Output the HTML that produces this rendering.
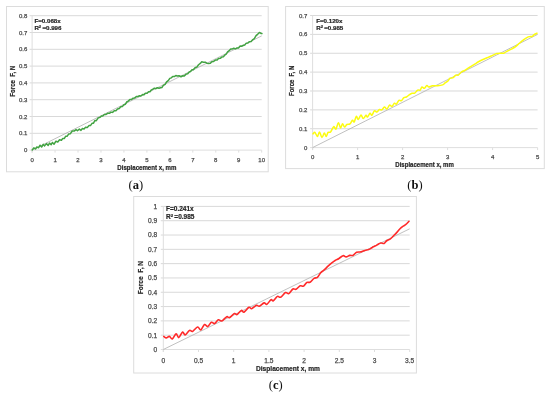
<!DOCTYPE html>
<html><head><meta charset="utf-8"><style>
html,body{margin:0;padding:0;background:#fff;}
body{width:550px;height:398px;overflow:hidden;}
svg{display:block;}
text{font-family:"Liberation Sans", Arial, sans-serif;}
</style></head><body>
<svg width="550" height="398" viewBox="0 0 550 398">
<rect width="550" height="398" fill="#fff"/>
<rect x="6.5" y="6.5" width="261.7" height="165.3" fill="#fff" stroke="#dcdcdc" stroke-width="1"/>
<text x="27.3" y="152.20" text-anchor="end" font-size="6.0" fill="#4a4a4a" stroke="#4a4a4a" stroke-width="0.25">0</text>
<line x1="29.6" y1="133.30" x2="261.7" y2="133.30" stroke="#d9d9d9" stroke-width="1"/>
<text x="27.3" y="135.40" text-anchor="end" font-size="6.0" fill="#4a4a4a" stroke="#4a4a4a" stroke-width="0.25">0.1</text>
<line x1="29.6" y1="116.50" x2="261.7" y2="116.50" stroke="#d9d9d9" stroke-width="1"/>
<text x="27.3" y="118.60" text-anchor="end" font-size="6.0" fill="#4a4a4a" stroke="#4a4a4a" stroke-width="0.25">0.2</text>
<line x1="29.6" y1="99.70" x2="261.7" y2="99.70" stroke="#d9d9d9" stroke-width="1"/>
<text x="27.3" y="101.80" text-anchor="end" font-size="6.0" fill="#4a4a4a" stroke="#4a4a4a" stroke-width="0.25">0.3</text>
<line x1="29.6" y1="82.90" x2="261.7" y2="82.90" stroke="#d9d9d9" stroke-width="1"/>
<text x="27.3" y="85.00" text-anchor="end" font-size="6.0" fill="#4a4a4a" stroke="#4a4a4a" stroke-width="0.25">0.4</text>
<line x1="29.6" y1="66.10" x2="261.7" y2="66.10" stroke="#d9d9d9" stroke-width="1"/>
<text x="27.3" y="68.20" text-anchor="end" font-size="6.0" fill="#4a4a4a" stroke="#4a4a4a" stroke-width="0.25">0.5</text>
<line x1="29.6" y1="49.30" x2="261.7" y2="49.30" stroke="#d9d9d9" stroke-width="1"/>
<text x="27.3" y="51.40" text-anchor="end" font-size="6.0" fill="#4a4a4a" stroke="#4a4a4a" stroke-width="0.25">0.6</text>
<line x1="29.6" y1="32.50" x2="261.7" y2="32.50" stroke="#d9d9d9" stroke-width="1"/>
<text x="27.3" y="34.60" text-anchor="end" font-size="6.0" fill="#4a4a4a" stroke="#4a4a4a" stroke-width="0.25">0.7</text>
<line x1="29.6" y1="15.70" x2="261.7" y2="15.70" stroke="#d9d9d9" stroke-width="1"/>
<text x="27.3" y="17.80" text-anchor="end" font-size="6.0" fill="#4a4a4a" stroke="#4a4a4a" stroke-width="0.25">0.8</text>
<line x1="32.1" y1="15.70" x2="32.1" y2="152.60" stroke="#dedede" stroke-width="1"/>
<line x1="29.6" y1="150.10" x2="261.7" y2="150.10" stroke="#dedede" stroke-width="1"/>
<line x1="32.10" y1="150.10" x2="32.10" y2="152.60" stroke="#dedede" stroke-width="1"/>
<text x="32.10" y="162.40" text-anchor="middle" font-size="6.0" fill="#4a4a4a" stroke="#4a4a4a" stroke-width="0.25">0</text>
<line x1="55.06" y1="150.10" x2="55.06" y2="152.60" stroke="#dedede" stroke-width="1"/>
<text x="55.06" y="162.40" text-anchor="middle" font-size="6.0" fill="#4a4a4a" stroke="#4a4a4a" stroke-width="0.25">1</text>
<line x1="78.02" y1="150.10" x2="78.02" y2="152.60" stroke="#dedede" stroke-width="1"/>
<text x="78.02" y="162.40" text-anchor="middle" font-size="6.0" fill="#4a4a4a" stroke="#4a4a4a" stroke-width="0.25">2</text>
<line x1="100.98" y1="150.10" x2="100.98" y2="152.60" stroke="#dedede" stroke-width="1"/>
<text x="100.98" y="162.40" text-anchor="middle" font-size="6.0" fill="#4a4a4a" stroke="#4a4a4a" stroke-width="0.25">3</text>
<line x1="123.94" y1="150.10" x2="123.94" y2="152.60" stroke="#dedede" stroke-width="1"/>
<text x="123.94" y="162.40" text-anchor="middle" font-size="6.0" fill="#4a4a4a" stroke="#4a4a4a" stroke-width="0.25">4</text>
<line x1="146.90" y1="150.10" x2="146.90" y2="152.60" stroke="#dedede" stroke-width="1"/>
<text x="146.90" y="162.40" text-anchor="middle" font-size="6.0" fill="#4a4a4a" stroke="#4a4a4a" stroke-width="0.25">5</text>
<line x1="169.86" y1="150.10" x2="169.86" y2="152.60" stroke="#dedede" stroke-width="1"/>
<text x="169.86" y="162.40" text-anchor="middle" font-size="6.0" fill="#4a4a4a" stroke="#4a4a4a" stroke-width="0.25">6</text>
<line x1="192.82" y1="150.10" x2="192.82" y2="152.60" stroke="#dedede" stroke-width="1"/>
<text x="192.82" y="162.40" text-anchor="middle" font-size="6.0" fill="#4a4a4a" stroke="#4a4a4a" stroke-width="0.25">7</text>
<line x1="215.78" y1="150.10" x2="215.78" y2="152.60" stroke="#dedede" stroke-width="1"/>
<text x="215.78" y="162.40" text-anchor="middle" font-size="6.0" fill="#4a4a4a" stroke="#4a4a4a" stroke-width="0.25">8</text>
<line x1="238.74" y1="150.10" x2="238.74" y2="152.60" stroke="#dedede" stroke-width="1"/>
<text x="238.74" y="162.40" text-anchor="middle" font-size="6.0" fill="#4a4a4a" stroke="#4a4a4a" stroke-width="0.25">9</text>
<line x1="261.70" y1="150.10" x2="261.70" y2="152.60" stroke="#dedede" stroke-width="1"/>
<text x="261.70" y="162.40" text-anchor="middle" font-size="6.0" fill="#4a4a4a" stroke="#4a4a4a" stroke-width="0.25">10</text>
<line x1="32.10" y1="150.10" x2="261.70" y2="35.86" stroke="#b0b0b0" stroke-width="0.8"/>
<path d="M32.20,150.01 L33.83,147.85 L35.49,148.99 L36.82,147.01 L38.63,147.68 L40.06,145.20 L41.64,147.04 L43.23,144.36 L44.60,145.90 L46.44,143.63 L48.19,145.46 L49.52,143.16 L51.17,144.65 L52.47,142.42 L54.06,144.15 L55.90,141.23 L57.77,142.02 L59.56,139.75 L61.44,140.18 L62.78,138.42 L64.20,138.59 L65.76,136.16 L67.23,136.20 L68.76,133.92 L70.41,133.66 L72.27,130.98 L74.15,131.07 L76.06,129.54 L77.45,130.72 L79.34,129.13 L80.99,130.37 L82.40,128.57 L84.05,129.07 L85.37,127.36 L87.28,127.45 L89.08,125.59 L90.45,125.58 L92.22,123.15 L93.53,123.19 L94.84,120.53 L96.33,120.65 L98.24,117.88 L100.16,117.32 L101.49,115.98 L102.79,115.97 L104.33,114.55 L105.71,114.59 L107.55,113.32 L109.44,113.37 L110.96,112.12 L112.57,112.38 L114.24,110.82 L115.91,110.67 L117.52,108.92 L119.26,108.46 L120.73,106.80 L122.34,106.61 L123.63,104.96 L125.28,104.28 L126.96,101.78 L128.28,101.10 L129.85,99.55 L131.36,99.62 L133.11,98.13 L134.43,98.08 L136.33,96.58 L137.90,96.62 L139.38,95.68 L140.86,95.99 L142.53,94.58 L144.05,94.63 L145.34,93.31 L147.09,93.25 L148.52,91.83 L149.95,91.83 L151.51,89.83 L152.85,89.25 L154.35,88.14 L155.91,88.70 L157.30,87.71 L158.99,88.18 L160.56,87.67 L161.92,87.46 L163.32,85.42 L165.14,84.26 L166.59,81.92 L168.29,80.60 L169.79,78.42 L171.25,77.86 L172.71,76.49 L174.25,76.59 L175.80,75.58 L177.18,76.07 L179.06,75.72 L180.97,76.75 L182.86,75.74 L184.28,75.93 L186.10,74.11 L187.71,73.72 L189.21,71.97 L190.53,71.50 L191.99,69.71 L193.30,69.79 L195.03,67.67 L196.88,67.08 L198.53,64.76 L200.29,63.47 L201.76,61.85 L203.38,62.14 L205.26,62.20 L206.75,63.20 L208.59,63.44 L210.37,63.28 L211.77,61.78 L213.58,61.43 L215.36,60.05 L217.16,60.06 L218.44,58.60 L220.28,58.31 L221.73,57.10 L223.35,56.70 L224.93,54.89 L226.21,54.05 L227.57,51.89 L228.90,50.96 L230.72,48.92 L232.32,48.90 L233.80,48.29 L235.50,48.91 L237.01,48.02 L238.50,48.02 L240.14,46.06 L241.66,46.21 L243.05,45.50 L244.72,45.09 L246.24,43.14 L247.92,43.07 L249.44,41.64 L251.17,41.48 L252.89,39.52 L254.33,38.57 L256.06,35.66 L257.61,34.34 L259.45,32.41 L260.97,33.44 L261.90,33.60" fill="none" stroke="#42a342" stroke-width="1.50" stroke-linejoin="round" stroke-linecap="round"/>
<text x="34.4" y="22.70" font-size="6.2" font-weight="bold" fill="#262626" stroke="#262626" stroke-width="0.2">F=0.068x</text>
<text x="34.4" y="29.60" font-size="6.2" font-weight="bold" fill="#262626" stroke="#262626" stroke-width="0.2">R<tspan font-size="4.0" dy="-2">2</tspan><tspan dy="2" dx="1.3">=0.996</tspan></text>
<text transform="translate(15.00,81.25) rotate(-90)" x="-15.45" y="0" font-size="6.60" font-weight="bold" fill="#262626" stroke="#262626" stroke-width="0.2" textLength="30.90" lengthAdjust="spacingAndGlyphs" xml:space="preserve">Force  F, N</text>
<text x="117.30" y="169.70" font-size="6.60" font-weight="bold" fill="#262626" stroke="#262626" stroke-width="0.2" textLength="59.10" lengthAdjust="spacingAndGlyphs">Displacement x, mm</text>
<rect x="285.6" y="6.5" width="258.7" height="162.1" fill="#fff" stroke="#dcdcdc" stroke-width="1"/>
<text x="307.3" y="149.70" text-anchor="end" font-size="6.0" fill="#4a4a4a" stroke="#4a4a4a" stroke-width="0.25">0</text>
<line x1="310.1" y1="128.73" x2="537.6" y2="128.73" stroke="#d9d9d9" stroke-width="1"/>
<text x="307.3" y="130.83" text-anchor="end" font-size="6.0" fill="#4a4a4a" stroke="#4a4a4a" stroke-width="0.25">0.1</text>
<line x1="310.1" y1="109.86" x2="537.6" y2="109.86" stroke="#d9d9d9" stroke-width="1"/>
<text x="307.3" y="111.96" text-anchor="end" font-size="6.0" fill="#4a4a4a" stroke="#4a4a4a" stroke-width="0.25">0.2</text>
<line x1="310.1" y1="90.99" x2="537.6" y2="90.99" stroke="#d9d9d9" stroke-width="1"/>
<text x="307.3" y="93.09" text-anchor="end" font-size="6.0" fill="#4a4a4a" stroke="#4a4a4a" stroke-width="0.25">0.3</text>
<line x1="310.1" y1="72.12" x2="537.6" y2="72.12" stroke="#d9d9d9" stroke-width="1"/>
<text x="307.3" y="74.22" text-anchor="end" font-size="6.0" fill="#4a4a4a" stroke="#4a4a4a" stroke-width="0.25">0.4</text>
<line x1="310.1" y1="53.25" x2="537.6" y2="53.25" stroke="#d9d9d9" stroke-width="1"/>
<text x="307.3" y="55.35" text-anchor="end" font-size="6.0" fill="#4a4a4a" stroke="#4a4a4a" stroke-width="0.25">0.5</text>
<line x1="310.1" y1="34.38" x2="537.6" y2="34.38" stroke="#d9d9d9" stroke-width="1"/>
<text x="307.3" y="36.48" text-anchor="end" font-size="6.0" fill="#4a4a4a" stroke="#4a4a4a" stroke-width="0.25">0.6</text>
<line x1="310.1" y1="15.51" x2="537.6" y2="15.51" stroke="#d9d9d9" stroke-width="1"/>
<text x="307.3" y="17.61" text-anchor="end" font-size="6.0" fill="#4a4a4a" stroke="#4a4a4a" stroke-width="0.25">0.7</text>
<line x1="312.6" y1="15.51" x2="312.6" y2="150.10" stroke="#dedede" stroke-width="1"/>
<line x1="310.1" y1="147.60" x2="537.6" y2="147.60" stroke="#dedede" stroke-width="1"/>
<line x1="312.60" y1="147.60" x2="312.60" y2="150.10" stroke="#dedede" stroke-width="1"/>
<text x="312.60" y="159.40" text-anchor="middle" font-size="6.0" fill="#4a4a4a" stroke="#4a4a4a" stroke-width="0.25">0</text>
<line x1="357.60" y1="147.60" x2="357.60" y2="150.10" stroke="#dedede" stroke-width="1"/>
<text x="357.60" y="159.40" text-anchor="middle" font-size="6.0" fill="#4a4a4a" stroke="#4a4a4a" stroke-width="0.25">1</text>
<line x1="402.60" y1="147.60" x2="402.60" y2="150.10" stroke="#dedede" stroke-width="1"/>
<text x="402.60" y="159.40" text-anchor="middle" font-size="6.0" fill="#4a4a4a" stroke="#4a4a4a" stroke-width="0.25">2</text>
<line x1="447.60" y1="147.60" x2="447.60" y2="150.10" stroke="#dedede" stroke-width="1"/>
<text x="447.60" y="159.40" text-anchor="middle" font-size="6.0" fill="#4a4a4a" stroke="#4a4a4a" stroke-width="0.25">3</text>
<line x1="492.60" y1="147.60" x2="492.60" y2="150.10" stroke="#dedede" stroke-width="1"/>
<text x="492.60" y="159.40" text-anchor="middle" font-size="6.0" fill="#4a4a4a" stroke="#4a4a4a" stroke-width="0.25">4</text>
<line x1="537.60" y1="147.60" x2="537.60" y2="150.10" stroke="#dedede" stroke-width="1"/>
<text x="537.60" y="159.40" text-anchor="middle" font-size="6.0" fill="#4a4a4a" stroke="#4a4a4a" stroke-width="0.25">5</text>
<line x1="312.60" y1="147.60" x2="537.60" y2="34.38" stroke="#b0b0b0" stroke-width="0.8"/>
<path d="M313.00,133.90 C313.32,133.65 314.17,131.98 314.90,132.40 C315.63,132.82 316.63,136.47 317.40,136.40 C318.17,136.33 318.73,131.80 319.50,132.00 C320.27,132.20 321.20,137.45 322.00,137.60 C322.80,137.75 323.60,133.10 324.30,132.90 C325.00,132.70 325.57,136.48 326.20,136.40 C326.83,136.32 327.37,133.13 328.10,132.40 C328.83,131.67 329.67,132.97 330.60,132.00 C331.53,131.03 332.82,127.08 333.70,126.60 C334.58,126.12 335.12,129.73 335.90,129.10 C336.68,128.47 337.62,123.00 338.40,122.80 C339.18,122.60 339.92,127.73 340.60,127.90 C341.28,128.07 341.83,123.95 342.50,123.80 C343.17,123.65 343.87,126.88 344.60,127.00 C345.33,127.12 346.00,125.03 346.90,124.50 C347.80,123.97 349.07,124.50 350.00,123.80 C350.93,123.10 351.80,120.60 352.50,120.30 C353.20,120.00 353.57,122.67 354.20,122.00 C354.83,121.33 355.63,116.73 356.30,116.30 C356.97,115.87 357.42,119.60 358.20,119.40 C358.98,119.20 360.17,115.23 361.00,115.10 C361.83,114.97 362.37,118.57 363.20,118.60 C364.03,118.63 365.28,115.57 366.00,115.30 C366.72,115.03 366.83,117.33 367.50,117.00 C368.17,116.67 369.27,113.60 370.00,113.30 C370.73,113.00 371.17,115.62 371.90,115.20 C372.63,114.78 373.57,111.33 374.40,110.80 C375.23,110.27 376.07,112.22 376.90,112.00 C377.73,111.78 378.57,109.85 379.40,109.50 C380.23,109.15 381.07,110.32 381.90,109.90 C382.73,109.48 383.55,107.17 384.40,107.00 C385.25,106.83 386.15,109.22 387.00,108.90 C387.85,108.58 388.67,105.52 389.50,105.10 C390.33,104.68 391.17,106.72 392.00,106.40 C392.83,106.08 393.77,103.58 394.50,103.20 C395.23,102.82 395.67,104.57 396.40,104.10 C397.13,103.63 398.07,100.97 398.90,100.40 C399.73,99.83 400.57,101.17 401.40,100.70 C402.23,100.23 403.07,98.22 403.90,97.60 C404.73,96.98 405.57,97.42 406.40,97.00 C407.23,96.58 407.97,95.73 408.90,95.10 C409.83,94.47 411.05,93.52 412.00,93.20 C412.95,92.88 413.65,93.72 414.60,93.20 C415.55,92.68 416.77,90.62 417.70,90.10 C418.63,89.58 419.50,90.62 420.20,90.10 C420.90,89.58 421.20,87.30 421.90,87.00 C422.60,86.70 423.57,88.57 424.40,88.30 C425.23,88.03 426.17,85.62 426.90,85.40 C427.63,85.18 427.87,86.93 428.80,87.00 C429.73,87.07 431.03,86.00 432.50,85.80 C433.97,85.60 435.92,85.95 437.60,85.80 C439.28,85.65 441.35,85.38 442.60,84.90 C443.85,84.42 444.17,83.60 445.10,82.90 C446.03,82.20 447.37,81.48 448.20,80.70 C449.03,79.92 449.27,78.72 450.10,78.20 C450.93,77.68 452.25,78.12 453.20,77.60 C454.15,77.08 454.95,75.52 455.80,75.10 C456.65,74.68 457.37,75.62 458.30,75.10 C459.23,74.58 460.25,72.83 461.40,72.00 C462.55,71.17 463.73,70.95 465.20,70.10 C466.67,69.25 468.53,67.95 470.20,66.90 C471.87,65.85 473.90,64.62 475.20,63.80 C476.50,62.98 476.70,62.72 478.00,62.00 C479.30,61.28 481.33,60.27 483.00,59.50 C484.67,58.73 486.32,58.13 488.00,57.40 C489.68,56.67 491.63,55.73 493.10,55.10 C494.57,54.47 495.55,53.92 496.80,53.60 C498.05,53.28 499.45,53.27 500.60,53.20 C501.75,53.13 502.65,53.52 503.70,53.20 C504.75,52.88 505.53,52.03 506.90,51.30 C508.27,50.57 510.45,49.58 511.90,48.80 C513.35,48.02 514.35,47.53 515.60,46.60 C516.85,45.67 518.13,44.28 519.40,43.20 C520.67,42.12 521.73,41.15 523.20,40.10 C524.67,39.05 526.73,37.50 528.20,36.90 C529.67,36.30 531.07,36.83 532.00,36.50 C532.93,36.17 532.97,35.45 533.80,34.90 C534.63,34.35 536.47,33.48 537.00,33.20" fill="none" stroke="#fcfc10" stroke-width="1.50" stroke-linejoin="round" stroke-linecap="round"/>
<text x="316.2" y="22.90" font-size="6.2" font-weight="bold" fill="#262626" stroke="#262626" stroke-width="0.2">F=0.120x</text>
<text x="316.2" y="29.80" font-size="6.2" font-weight="bold" fill="#262626" stroke="#262626" stroke-width="0.2">R<tspan font-size="4.0" dy="-2">2</tspan><tspan dy="2" dx="1.3">=0.985</tspan></text>
<text transform="translate(294.00,80.90) rotate(-90)" x="-15.10" y="0" font-size="6.60" font-weight="bold" fill="#262626" stroke="#262626" stroke-width="0.2" textLength="30.20" lengthAdjust="spacingAndGlyphs" xml:space="preserve">Force  F, N</text>
<text x="395.30" y="167.10" font-size="6.60" font-weight="bold" fill="#262626" stroke="#262626" stroke-width="0.2" textLength="58.60" lengthAdjust="spacingAndGlyphs">Displacement x, mm</text>
<rect x="133.7" y="196.5" width="282.7" height="176.5" fill="#fff" stroke="#dcdcdc" stroke-width="1"/>
<text x="157.2" y="351.81" text-anchor="end" font-size="6.6" fill="#4a4a4a" stroke="#4a4a4a" stroke-width="0.25">0</text>
<line x1="160.8" y1="335.19" x2="409.7" y2="335.19" stroke="#d9d9d9" stroke-width="1"/>
<text x="157.2" y="337.50" text-anchor="end" font-size="6.6" fill="#4a4a4a" stroke="#4a4a4a" stroke-width="0.25">0.1</text>
<line x1="160.8" y1="320.88" x2="409.7" y2="320.88" stroke="#d9d9d9" stroke-width="1"/>
<text x="157.2" y="323.19" text-anchor="end" font-size="6.6" fill="#4a4a4a" stroke="#4a4a4a" stroke-width="0.25">0.2</text>
<line x1="160.8" y1="306.57" x2="409.7" y2="306.57" stroke="#d9d9d9" stroke-width="1"/>
<text x="157.2" y="308.88" text-anchor="end" font-size="6.6" fill="#4a4a4a" stroke="#4a4a4a" stroke-width="0.25">0.3</text>
<line x1="160.8" y1="292.26" x2="409.7" y2="292.26" stroke="#d9d9d9" stroke-width="1"/>
<text x="157.2" y="294.57" text-anchor="end" font-size="6.6" fill="#4a4a4a" stroke="#4a4a4a" stroke-width="0.25">0.4</text>
<line x1="160.8" y1="277.95" x2="409.7" y2="277.95" stroke="#d9d9d9" stroke-width="1"/>
<text x="157.2" y="280.26" text-anchor="end" font-size="6.6" fill="#4a4a4a" stroke="#4a4a4a" stroke-width="0.25">0.5</text>
<line x1="160.8" y1="263.64" x2="409.7" y2="263.64" stroke="#d9d9d9" stroke-width="1"/>
<text x="157.2" y="265.95" text-anchor="end" font-size="6.6" fill="#4a4a4a" stroke="#4a4a4a" stroke-width="0.25">0.6</text>
<line x1="160.8" y1="249.33" x2="409.7" y2="249.33" stroke="#d9d9d9" stroke-width="1"/>
<text x="157.2" y="251.64" text-anchor="end" font-size="6.6" fill="#4a4a4a" stroke="#4a4a4a" stroke-width="0.25">0.7</text>
<line x1="160.8" y1="235.02" x2="409.7" y2="235.02" stroke="#d9d9d9" stroke-width="1"/>
<text x="157.2" y="237.33" text-anchor="end" font-size="6.6" fill="#4a4a4a" stroke="#4a4a4a" stroke-width="0.25">0.8</text>
<line x1="160.8" y1="220.71" x2="409.7" y2="220.71" stroke="#d9d9d9" stroke-width="1"/>
<text x="157.2" y="223.02" text-anchor="end" font-size="6.6" fill="#4a4a4a" stroke="#4a4a4a" stroke-width="0.25">0.9</text>
<line x1="160.8" y1="206.40" x2="409.7" y2="206.40" stroke="#d9d9d9" stroke-width="1"/>
<text x="157.2" y="208.71" text-anchor="end" font-size="6.6" fill="#4a4a4a" stroke="#4a4a4a" stroke-width="0.25">1</text>
<line x1="163.3" y1="206.40" x2="163.3" y2="352.00" stroke="#dedede" stroke-width="1"/>
<line x1="160.8" y1="349.50" x2="409.7" y2="349.50" stroke="#dedede" stroke-width="1"/>
<line x1="163.30" y1="349.50" x2="163.30" y2="352.00" stroke="#dedede" stroke-width="1"/>
<text x="163.30" y="362.80" text-anchor="middle" font-size="6.6" fill="#4a4a4a" stroke="#4a4a4a" stroke-width="0.25">0</text>
<line x1="198.50" y1="349.50" x2="198.50" y2="352.00" stroke="#dedede" stroke-width="1"/>
<text x="198.50" y="362.80" text-anchor="middle" font-size="6.6" fill="#4a4a4a" stroke="#4a4a4a" stroke-width="0.25">0.5</text>
<line x1="233.70" y1="349.50" x2="233.70" y2="352.00" stroke="#dedede" stroke-width="1"/>
<text x="233.70" y="362.80" text-anchor="middle" font-size="6.6" fill="#4a4a4a" stroke="#4a4a4a" stroke-width="0.25">1</text>
<line x1="268.90" y1="349.50" x2="268.90" y2="352.00" stroke="#dedede" stroke-width="1"/>
<text x="268.90" y="362.80" text-anchor="middle" font-size="6.6" fill="#4a4a4a" stroke="#4a4a4a" stroke-width="0.25">1.5</text>
<line x1="304.10" y1="349.50" x2="304.10" y2="352.00" stroke="#dedede" stroke-width="1"/>
<text x="304.10" y="362.80" text-anchor="middle" font-size="6.6" fill="#4a4a4a" stroke="#4a4a4a" stroke-width="0.25">2</text>
<line x1="339.30" y1="349.50" x2="339.30" y2="352.00" stroke="#dedede" stroke-width="1"/>
<text x="339.30" y="362.80" text-anchor="middle" font-size="6.6" fill="#4a4a4a" stroke="#4a4a4a" stroke-width="0.25">2.5</text>
<line x1="374.50" y1="349.50" x2="374.50" y2="352.00" stroke="#dedede" stroke-width="1"/>
<text x="374.50" y="362.80" text-anchor="middle" font-size="6.6" fill="#4a4a4a" stroke="#4a4a4a" stroke-width="0.25">3</text>
<line x1="409.70" y1="349.50" x2="409.70" y2="352.00" stroke="#dedede" stroke-width="1"/>
<text x="409.70" y="362.80" text-anchor="middle" font-size="6.6" fill="#4a4a4a" stroke="#4a4a4a" stroke-width="0.25">3.5</text>
<line x1="163.30" y1="349.50" x2="409.70" y2="228.80" stroke="#b0b0b0" stroke-width="0.8"/>
<path d="M163.80,336.40 C164.22,336.65 165.37,337.90 166.30,337.90 C167.23,337.90 168.40,336.23 169.40,336.40 C170.40,336.57 171.18,339.32 172.30,338.90 C173.42,338.48 175.02,334.12 176.10,333.90 C177.18,333.68 177.72,337.92 178.80,337.60 C179.88,337.28 181.55,332.45 182.60,332.00 C183.65,331.55 183.95,335.17 185.10,334.90 C186.25,334.63 188.25,330.98 189.50,330.40 C190.75,329.82 191.25,331.97 192.60,331.40 C193.95,330.83 196.23,327.25 197.60,327.00 C198.97,326.75 199.65,330.32 200.80,329.90 C201.95,329.48 203.35,325.05 204.50,324.50 C205.65,323.95 206.55,326.97 207.70,326.60 C208.85,326.23 210.25,322.80 211.40,322.30 C212.55,321.80 213.45,324.02 214.60,323.60 C215.75,323.18 217.08,320.25 218.30,319.80 C219.52,319.35 220.48,321.42 221.90,320.90 C223.32,320.38 225.53,317.23 226.80,316.70 C228.07,316.17 228.23,318.22 229.50,317.70 C230.77,317.18 233.13,314.13 234.40,313.60 C235.67,313.07 235.95,315.03 237.10,314.50 C238.25,313.97 240.15,310.78 241.30,310.40 C242.45,310.02 242.73,312.72 244.00,312.20 C245.27,311.68 247.62,307.88 248.90,307.30 C250.18,306.72 250.43,309.03 251.70,308.70 C252.97,308.37 255.23,305.72 256.50,305.30 C257.77,304.88 258.03,306.60 259.30,306.20 C260.57,305.80 262.83,303.22 264.10,302.90 C265.37,302.58 265.75,304.83 266.90,304.30 C268.05,303.77 269.93,300.28 271.00,299.70 C272.07,299.12 272.23,301.35 273.30,300.80 C274.37,300.25 276.18,297.00 277.40,296.40 C278.62,295.80 279.25,297.83 280.60,297.20 C281.95,296.57 284.13,293.20 285.50,292.60 C286.87,292.00 287.57,294.20 288.80,293.60 C290.03,293.00 291.68,289.72 292.90,289.00 C294.12,288.28 294.88,289.83 296.10,289.30 C297.32,288.77 298.97,286.33 300.20,285.80 C301.43,285.27 302.40,286.65 303.50,286.10 C304.60,285.55 305.72,283.15 306.80,282.50 C307.88,281.85 308.78,282.88 310.00,282.20 C311.22,281.52 312.87,279.22 314.10,278.40 C315.33,277.58 316.30,278.25 317.40,277.30 C318.50,276.35 319.62,273.88 320.70,272.70 C321.78,271.52 322.68,271.28 323.90,270.20 C325.12,269.12 326.68,267.42 328.00,266.20 C329.32,264.98 330.55,263.90 331.80,262.90 C333.05,261.90 334.37,260.90 335.50,260.20 C336.63,259.50 337.33,259.45 338.60,258.70 C339.87,257.95 341.85,256.00 343.10,255.70 C344.35,255.40 344.98,256.95 346.10,256.90 C347.22,256.85 348.67,255.65 349.80,255.40 C350.93,255.15 351.77,255.92 352.90,255.40 C354.03,254.88 355.23,252.88 356.60,252.30 C357.97,251.72 359.72,252.22 361.10,251.90 C362.48,251.58 363.63,250.78 364.90,250.40 C366.17,250.02 367.57,250.03 368.70,249.60 C369.83,249.17 370.92,248.27 371.70,247.80 C372.48,247.33 372.55,247.25 373.40,246.80 C374.25,246.35 375.58,245.73 376.80,245.10 C378.02,244.47 379.48,243.28 380.70,243.00 C381.92,242.72 383.05,243.82 384.10,243.40 C385.15,242.98 385.95,241.27 387.00,240.50 C388.05,239.73 389.27,239.63 390.40,238.80 C391.53,237.97 392.68,236.62 393.80,235.50 C394.92,234.38 396.07,233.23 397.10,232.10 C398.13,230.97 399.05,229.65 400.00,228.70 C400.95,227.75 401.87,227.07 402.80,226.40 C403.73,225.73 404.57,225.55 405.60,224.70 C406.63,223.85 408.43,221.87 409.00,221.30" fill="none" stroke="#ff2a2a" stroke-width="1.60" stroke-linejoin="round" stroke-linecap="round"/>
<text x="166.0" y="211.00" font-size="6.5" font-weight="bold" fill="#262626" stroke="#262626" stroke-width="0.2">F=0.241x</text>
<text x="166.0" y="218.60" font-size="6.5" font-weight="bold" fill="#262626" stroke="#262626" stroke-width="0.2">R<tspan font-size="4.2" dy="-2">2</tspan><tspan dy="2" dx="1.3">=0.985</tspan></text>
<text transform="translate(143.00,277.60) rotate(-90)" x="-16.65" y="0" font-size="7.00" font-weight="bold" fill="#262626" stroke="#262626" stroke-width="0.2" textLength="33.30" lengthAdjust="spacingAndGlyphs" xml:space="preserve">Force  F, N</text>
<text x="256.00" y="370.80" font-size="7.00" font-weight="bold" fill="#262626" stroke="#262626" stroke-width="0.2" textLength="64.00" lengthAdjust="spacingAndGlyphs">Displacement x, mm</text>
<text x="135.8" y="188.5" text-anchor="middle" style="font-family:'Liberation Serif', serif" font-size="12.5" fill="#111">(<tspan font-weight="bold">a</tspan>)</text>
<text x="414.9" y="188.7" text-anchor="middle" style="font-family:'Liberation Serif', serif" font-size="12.5" fill="#111">(<tspan font-weight="bold">b</tspan>)</text>
<text x="275.7" y="389.2" text-anchor="middle" style="font-family:'Liberation Serif', serif" font-size="12.5" fill="#111">(<tspan font-weight="bold">c</tspan>)</text>
</svg>
</body></html>
